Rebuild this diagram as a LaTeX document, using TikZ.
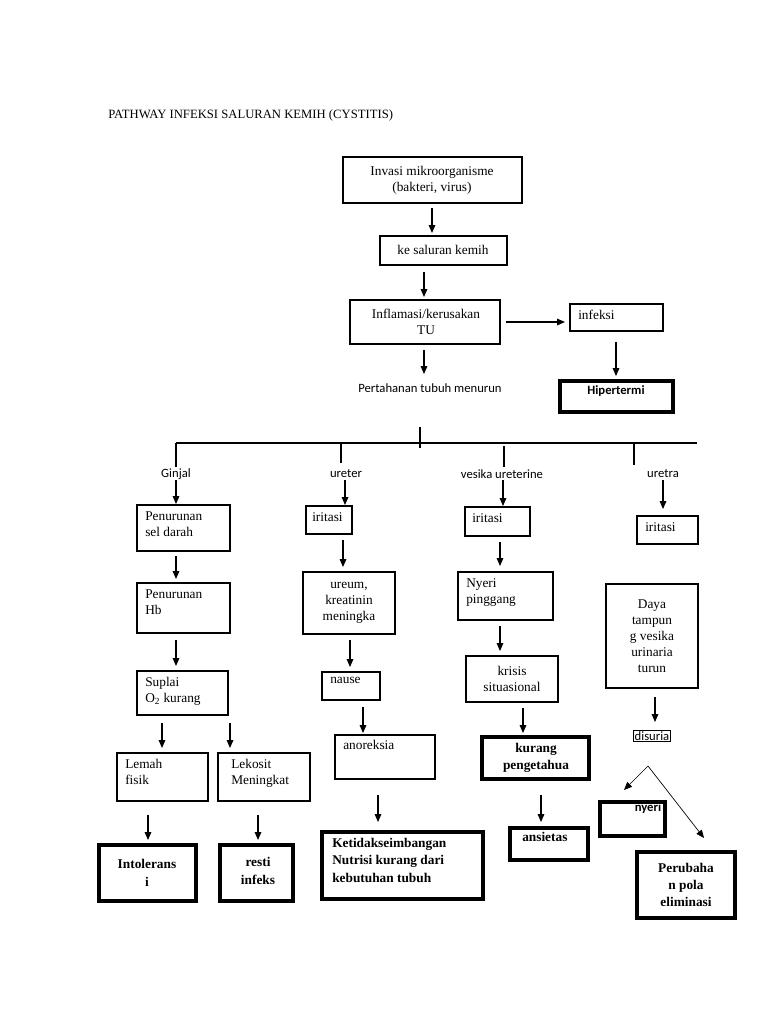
\documentclass[tikz,border=0pt]{standalone}
\usepackage{fontspec}
\setmainfont{Liberation Serif}
\newfontfamily\sans{Carlito}
\usetikzlibrary{arrows.meta}
\begin{document}
\begin{tikzpicture}[x=0.75pt,y=-0.75pt,
 box/.style={draw,line width=0.8pt},
 bb/.style={draw,line width=2.6pt},
 t/.style={font=\fontsize{10}{12}\selectfont,align=left,anchor=north west,inner sep=0pt},
 tb/.style={font=\fontsize{10}{13}\selectfont\bfseries,align=center,inner sep=0pt},
 ar/.style={-{Triangle[length=6pt,width=5pt]},line width=0.8pt},
 lab/.style={font=\sans\fontsize{9.5}{11}\selectfont,inner sep=0pt}]
\useasboundingbox (0,0) rectangle (768,1024);
\node[t,anchor=west,font=\fontsize{9.5}{11}\selectfont] (title) at (108,115) {PATHWAY INFEKSI SALURAN KEMIH (CYSTITIS)};
% top
\draw[box] (343,157) rectangle (522,203);
\node[t,anchor=center,align=center] (inv) at (432,180) {Invasi mikroorganisme\\(bakteri, virus)};
\draw[box] (380,236) rectangle (507,265);
\node[t,anchor=center] (ke) at (443,250) {ke saluran kemih};
\draw[box] (350,300) rectangle (500,344);
\node[t,anchor=center,align=center] (inf) at (426,322) {Inflamasi/kerusakan\\TU};
\draw[box] (570,304) rectangle (663,331);
\node[t] (infk) at (578,310) {infeksi};
\node[lab] (per) at (430,388) {Pertahanan tubuh menurun};
\draw[bb] (560,381) rectangle (673,412);
\node[tb,font=\sans\fontsize{9.5}{11}\selectfont\bfseries] (hip) at (616,391) {Hipertermi};
\coordinate (a1) at (432,208); \coordinate (a1e) at (432,233);
\draw[ar] (a1) -- (a1e);
\coordinate (a2) at (424,272); \coordinate (a2e) at (424,297);
\draw[ar] (a2) -- (a2e);
\coordinate (a3) at (506,322); \coordinate (a3e) at (565,322);
\draw[ar] (a3) -- (a3e);
\coordinate (a4) at (424,350); \coordinate (a4e) at (424,374);
\draw[ar] (a4) -- (a4e);
\coordinate (a5) at (616,342); \coordinate (a5e) at (616,376);
\draw[ar] (a5) -- (a5e);
% branch
\coordinate (hl) at (176,443); \coordinate (hr) at (697,443);
\draw[line width=0.8pt] (hl) -- (hr);
\coordinate (s1) at (420,427); \coordinate (s2) at (420,448);
\draw[line width=0.8pt] (s1) -- (s2);
\coordinate (g0) at (176,467);
\draw[line width=0.8pt] (hl) -- (g0);
\coordinate (u0) at (341,443); \coordinate (u1) at (341,463);
\draw[line width=0.8pt] (u0) -- (u1);
\coordinate (v0) at (504,446); \coordinate (v1) at (504,467);
\draw[line width=0.8pt] (v0) -- (v1);
\coordinate (r0) at (634,443); \coordinate (r1) at (634,465);
\draw[line width=0.8pt] (r0) -- (r1);
\node[lab] (gin) at (176,474) {Ginjal};
\node[lab] (ure) at (346,474) {ureter};
\node[lab] (ves) at (502,474) {vesika ureterine};
\node[lab] (urt) at (663,474) {uretra};
\coordinate (b1) at (176,480); \coordinate (b1e) at (176,504);
\draw[ar] (b1) -- (b1e);
\coordinate (b2) at (345,480); \coordinate (b2e) at (345,505);
\draw[ar] (b2) -- (b2e);
\coordinate (b3) at (503,480); \coordinate (b3e) at (503,506);
\draw[ar] (b3) -- (b3e);
\coordinate (b4) at (663,480); \coordinate (b4e) at (663,509);
\draw[ar] (b4) -- (b4e);
% column 1
\draw[box] (137,505) rectangle (230,551);
\node[t] (c11) at (145,511) {Penurunan\\sel darah};
\draw[box] (137,583) rectangle (230,633);
\node[t] (c12) at (145,589) {Penurunan\\Hb};
\draw[box] (137,671) rectangle (228,715);
\node[t] (c13) at (145,677) {Suplai\\O\textsubscript{2} kurang};
\draw[box] (117,753) rectangle (208,801);
\node[t] (c14) at (125,759) {Lemah\\fisik};
\draw[box] (218,753) rectangle (310,801);
\node[t] (c15) at (231,759) {Lekosit\\Meningkat};
\draw[bb] (99,845) rectangle (196,901);
\node[tb] (c16) at (147,873) {Intolerans\\i};
\draw[bb] (220,845) rectangle (293,901);
\node[tb] (c17) at (258,871) {resti\\infeks};
\foreach \x/\ya/\yb [count=\i] in {176/556/579,176/640/666,162/723/748,230/723/748,148/815/840,258/815/840}{
 \coordinate (p\i) at (\x,\ya); \coordinate (q\i) at (\x,\yb); \draw[ar] (p\i) -- (q\i);}
% column 2
\draw[box] (306,506) rectangle (352,534);
\node[t] (c21) at (312,512) {iritasi};
\draw[box] (303,572) rectangle (395,634);
\node[t,align=center,anchor=center] (c22) at (349,603) {ureum,\\kreatinin\\meningka};
\draw[box] (322,672) rectangle (380,700);
\node[t] (c23) at (330,677) {nause};
\draw[box] (335,735) rectangle (435,779);
\node[t] (c24) at (343,740) {anoreksia};
\draw[bb] (322,832) rectangle (483,899);
\node[tb,align=left,anchor=north west] (c25) at (332,838) {Ketidakseimbangan\\Nutrisi kurang dari\\kebutuhan tubuh};
\foreach \x/\ya/\yb [count=\i] in {343/540/567,350/640/667,363/707/733,378/795/822}{
 \coordinate (m\i) at (\x,\ya); \coordinate (n\i) at (\x,\yb); \draw[ar] (m\i) -- (n\i);}
% column 3
\draw[box] (465,507) rectangle (530,536);
\node[t] (c31) at (472,513) {iritasi};
\draw[box] (458,572) rectangle (553,620);
\node[t] (c32) at (466,578) {Nyeri\\pinggang};
\draw[box] (466,656) rectangle (558,702);
\node[t,align=center,anchor=center] (c33) at (512,679) {krisis\\situasional};
\draw[bb] (482,737) rectangle (589,779);
\node[tb] (c34) at (536,758) {kurang\\pengetahua};
\draw[bb] (510,828) rectangle (588,860);
\node[tb,anchor=north west] (c35) at (522,832) {ansietas};
\foreach \x/\ya/\yb [count=\i] in {500/542/566,500/626/651,523/708/733,541/795/822}{
 \coordinate (k\i) at (\x,\ya); \coordinate (l\i) at (\x,\yb); \draw[ar] (k\i) -- (l\i);}
% column 4
\draw[box] (637,516) rectangle (698,544);
\node[t] (c41) at (645,522) {iritasi};
\draw[box] (606,584) rectangle (698,688);
\node[t,align=center,anchor=center] (c42) at (652,636) {Daya\\tampun\\g vesika\\urinaria\\turun};
\node[draw,line width=0.6pt,inner sep=1pt,font=\sans\fontsize{9.5}{11}\selectfont] (c43) at (652,736) {disuria};
\coordinate (d1) at (655,697); \coordinate (d1e) at (655,722);
\draw[ar] (d1) -- (d1e);
\coordinate (sp) at (648,766); \coordinate (spl) at (624,790); \coordinate (spr) at (704,838);
\draw[-{Triangle[length=6pt,width=5pt]},line width=0.5pt] (sp) -- (spl);
\draw[-{Triangle[length=6pt,width=5pt]},line width=0.5pt] (sp) -- (spr);
\draw[bb] (600,802) rectangle (665,836);
\node[tb,font=\sans\fontsize{9.5}{11}\selectfont\bfseries,anchor=north] (c44) at (648,802) {nyeri};
\draw[bb] (637,852) rectangle (735,918);
\node[tb] (c45) at (686,885) {Perubaha\\n pola\\eliminasi};
\end{tikzpicture}
\end{document}
